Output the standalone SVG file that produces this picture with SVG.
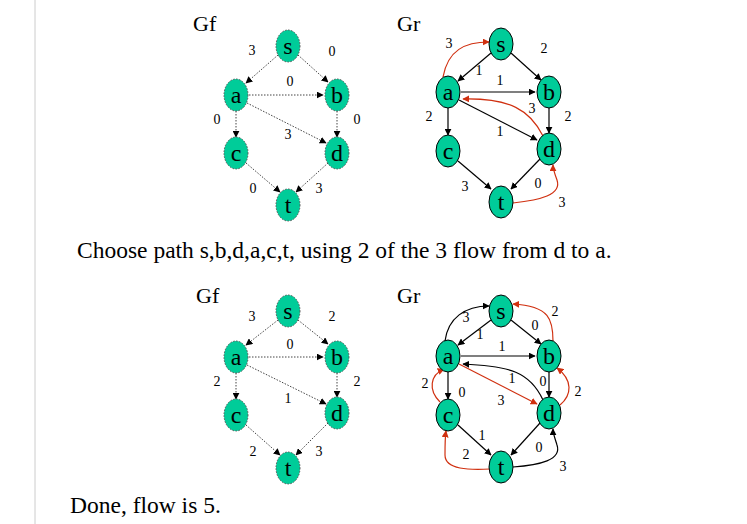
<svg xmlns="http://www.w3.org/2000/svg" width="747" height="524" viewBox="0 0 747 524">
<style>
text{font-family:"Liberation Serif",serif;fill:#000}
.n ellipse{fill:#00cc99}
.f ellipse{stroke:#555;stroke-dasharray:1.5 1.5;stroke-width:1}
.r ellipse{stroke:#000;stroke-width:1}
.n text{font-size:24px;text-anchor:middle}
.l{font-size:14px;text-anchor:middle}
.t{font-size:23.5px}
.h{font-size:22px}
.fd{stroke:#444;stroke-dasharray:1.5 1.5;fill:none;stroke-width:1;marker-end:url(#ak)}
.k{stroke:#000;fill:none;stroke-width:1.2;marker-end:url(#ak)}
.rd{stroke:#d03010;fill:none;stroke-width:1.2;marker-end:url(#ar)}
</style>
<defs>
<marker id="ak" viewBox="0 0 10 10" refX="9" refY="5" markerWidth="7" markerHeight="7" orient="auto" markerUnits="userSpaceOnUse"><path d="M0,0L10,5L0,10z" fill="#000"/></marker>
<marker id="ar" viewBox="0 0 10 10" refX="9" refY="5" markerWidth="7" markerHeight="7" orient="auto" markerUnits="userSpaceOnUse"><path d="M0,0L10,5L0,10z" fill="#d03010"/></marker>
</defs>
<line x1="35" y1="0" x2="35" y2="524" stroke="#ccc"/>
<text class="h" x="193" y="31">Gf</text>
<text class="h" x="397" y="31">Gr</text>
<text class="h" x="196" y="303">Gf</text>
<text class="h" x="397" y="303">Gr</text>
<text class="t" x="77" y="258">Choose path s,b,d,a,c,t, using 2 of the 3 flow from d to a.</text>
<text class="t" x="70" y="513">Done, flow is 5.</text>
<g id="connectors">
<path class="fd" d="M278,55L246,83"/><path class="fd" d="M298,55L328,82"/>
<path class="fd" d="M249,95L323,95"/><path class="fd" d="M236,111L236,137"/>
<path class="fd" d="M337,111L337,137"/><path class="fd" d="M247,103L326,143"/>
<path class="fd" d="M246,163L280,192"/><path class="fd" d="M328,163L296,192"/>
<path class="k" d="M491,53L458,81"/><path class="k" d="M511,53L541,80"/>
<path class="k" d="M461,92L535,92"/><path class="k" d="M448,108L448,135"/>
<path class="k" d="M549,108L549,133"/><path class="k" d="M459,100L537,140"/>
<path class="k" d="M458,161L491,189"/><path class="k" d="M540,159L511,189"/>
<path class="rd" d="M443,77C448,50 465,42 489,42"/>
<path class="rd" d="M543,136C530,110 510,98 463,99"/>
<path class="rd" d="M513,203C540,200 562,195 557,180C554,172 553,168 553,165"/>
<path class="fd" d="M278,320L246,345"/><path class="fd" d="M298,320L328,344"/>
<path class="fd" d="M249,357L323,357"/><path class="fd" d="M236,373L236,399"/>
<path class="fd" d="M337,373L337,397"/><path class="fd" d="M247,365L326,404"/>
<path class="fd" d="M246,425L280,455"/><path class="fd" d="M328,423L296,455"/>
<path class="k" d="M491,320L458,345"/><path class="k" d="M511,320L541,344"/>
<path class="k" d="M461,356L535,356"/><path class="k" d="M448,372L448,399"/>
<path class="k" d="M549,372L549,397"/><path class="k" d="M543,400C530,372 510,366 463,364"/>
<path class="k" d="M458,425L491,455"/><path class="k" d="M540,423L511,455"/>
<path class="k" d="M445,341C448,318 465,306 489,306"/>
<path class="k" d="M513,467C540,465 562,460 557,445C555,438 553,434 553,429"/>
<path class="rd" d="M459,364L537,404"/>
<path class="rd" d="M553,341C553,320 550,306 513,304"/>
<path class="rd" d="M560,405C572,395 573,380 557,368"/>
<path class="rd" d="M440,402C428,390 430,375 444,369"/>
<path class="rd" d="M490,469C470,470 445,470 445,455C445,445 445,438 446,431"/>
</g>
<g id="lbl">
<text class="l" x="252" y="55">3</text><text class="l" x="332" y="56">0</text><text class="l" x="290" y="86">0</text>
<text class="l" x="217" y="124">0</text><text class="l" x="357" y="124">0</text><text class="l" x="288" y="139">3</text>
<text class="l" x="253" y="193">0</text><text class="l" x="319" y="193">3</text>
<text class="l" x="449" y="48">3</text><text class="l" x="544" y="53">2</text><text class="l" x="479" y="75">1</text><text class="l" x="500" y="85">1</text>
<text class="l" x="429" y="121">2</text><text class="l" x="532" y="113">3</text><text class="l" x="568" y="121">2</text><text class="l" x="500" y="136">1</text>
<text class="l" x="465" y="191">3</text><text class="l" x="538" y="188">0</text><text class="l" x="562" y="207">3</text>
<text class="l" x="252" y="321">3</text><text class="l" x="332" y="321">2</text><text class="l" x="290" y="349">0</text>
<text class="l" x="217" y="386">2</text><text class="l" x="357" y="386">2</text><text class="l" x="288" y="403">1</text>
<text class="l" x="253" y="456">2</text><text class="l" x="319" y="456">3</text>
<text class="l" x="466" y="322">3</text><text class="l" x="480" y="339">1</text><text class="l" x="535" y="330">0</text><text class="l" x="555" y="316">2</text>
<text class="l" x="502" y="351">1</text><text class="l" x="512" y="383">1</text><text class="l" x="543" y="386">0</text><text class="l" x="578" y="396">2</text>
<text class="l" x="425" y="388">2</text><text class="l" x="462" y="397">0</text><text class="l" x="501" y="405">3</text>
<text class="l" x="482" y="440">1</text><text class="l" x="466" y="459">2</text><text class="l" x="539" y="452">0</text><text class="l" x="563" y="471">3</text>
</g>
<g id="s1" class="n f"><ellipse cx="288" cy="46" rx="12" ry="16"/><text x="288" y="54">s</text></g>
<g id="a1" class="n f"><ellipse cx="236" cy="95" rx="12" ry="16"/><text x="236" y="103">a</text></g>
<g id="b1" class="n f"><ellipse cx="337" cy="95" rx="12" ry="16"/><text x="337" y="103">b</text></g>
<g id="c1" class="n f"><ellipse cx="236" cy="153" rx="12" ry="16"/><text x="236" y="161">c</text></g>
<g id="d1" class="n f"><ellipse cx="337" cy="153" rx="12" ry="16"/><text x="337" y="161">d</text></g>
<g id="t1" class="n f"><ellipse cx="288" cy="205" rx="12" ry="16"/><text x="288" y="213">t</text></g>
<g id="s2" class="n r"><ellipse cx="501" cy="44" rx="12" ry="16"/><text x="501" y="52">s</text></g>
<g id="a2" class="n r"><ellipse cx="448" cy="92" rx="12" ry="16"/><text x="448" y="100">a</text></g>
<g id="b2" class="n r"><ellipse cx="549" cy="92" rx="12" ry="16"/><text x="549" y="100">b</text></g>
<g id="c2" class="n r"><ellipse cx="448" cy="151" rx="12" ry="16"/><text x="448" y="159">c</text></g>
<g id="d2" class="n r"><ellipse cx="549" cy="149" rx="12" ry="16"/><text x="549" y="157">d</text></g>
<g id="t2" class="n r"><ellipse cx="501" cy="202" rx="12" ry="16"/><text x="501" y="210">t</text></g>
<g id="s3" class="n f"><ellipse cx="288" cy="311" rx="12" ry="16"/><text x="288" y="319">s</text></g>
<g id="a3" class="n f"><ellipse cx="236" cy="357" rx="12" ry="16"/><text x="236" y="365">a</text></g>
<g id="b3" class="n f"><ellipse cx="337" cy="357" rx="12" ry="16"/><text x="337" y="365">b</text></g>
<g id="c3" class="n f"><ellipse cx="236" cy="415" rx="12" ry="16"/><text x="236" y="423">c</text></g>
<g id="d3" class="n f"><ellipse cx="337" cy="413" rx="12" ry="16"/><text x="337" y="421">d</text></g>
<g id="t3" class="n f"><ellipse cx="288" cy="468" rx="12" ry="16"/><text x="288" y="476">t</text></g>
<g id="s4" class="n r"><ellipse cx="501" cy="311" rx="12" ry="16"/><text x="501" y="319">s</text></g>
<g id="a4" class="n r"><ellipse cx="448" cy="356" rx="12" ry="16"/><text x="448" y="364">a</text></g>
<g id="b4" class="n r"><ellipse cx="549" cy="356" rx="12" ry="16"/><text x="549" y="364">b</text></g>
<g id="c4" class="n r"><ellipse cx="448" cy="415" rx="12" ry="16"/><text x="448" y="423">c</text></g>
<g id="d4" class="n r"><ellipse cx="549" cy="413" rx="12" ry="16"/><text x="549" y="421">d</text></g>
<g id="t4" class="n r"><ellipse cx="501" cy="467" rx="12" ry="16"/><text x="501" y="475">t</text></g>
</svg>
